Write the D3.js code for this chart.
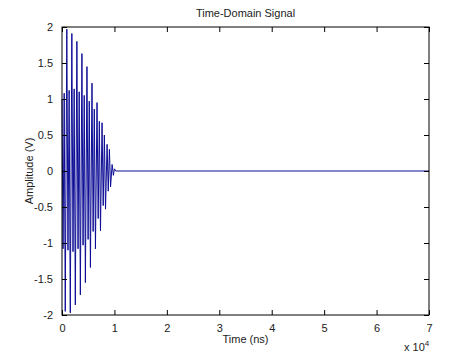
<!DOCTYPE html>
<html>
<head>
<meta charset="utf-8">
<script src="https://cdn.jsdelivr.net/npm/d3@7"></script>
<style>
  body { margin: 0; background: #fff; }
  svg text { font-family: "Liberation Sans", Arial, sans-serif; fill: #222; }
</style>
</head>
<body>
<div id="chart"></div>
<script>
// values (time in ns, amplitude in V)
const startPoints = [[0, 1.0], [200, -1.08], [420, 1.08]]

const negT = [620, 1580, 2540, 3500, 4460, 5420, 6380, 7340, 8300, 9260]
const negV = [-1.95, -1.97, -1.86, -1.72, -1.55, -1.34, -1.08, -0.83, -0.53, -0.22]
const posT = [920, 1880, 2840, 3800, 4760, 5720, 6680, 7640, 8600, 9560]
const posV = [1.97, 1.91, 1.80, 1.63, 1.45, 1.22, 0.95, 0.67, 0.37, 0.09]
// light zig-zag between spikes
const zigLowT = [1140, 2100, 3060, 4020, 4980, 5940, 6900, 7860, 8820]
const zigLowV = [-1.10, -1.12, -1.08, -1.03, -0.95, -0.84, -0.66, -0.48, -0.28]
const zigHighT = [1360, 2320, 3280, 4240, 5200, 6160, 7120, 8080, 9040]
const zigHighV = [1.12, 1.14, 1.10, 1.05, 0.97, 0.86, 0.69, 0.50, 0.30]
const tailPoints = [[9800, -0.06], [10000, 0.03], [10250, 0], [70000, 0]]

const xTicks = [0, 1, 2, 3, 4, 5, 6, 7]
const yTicks = [-2, -1.5, -1, -0.5, 0, 0.5, 1, 1.5, 2]

// assemble the polyline
let signal = startPoints.slice()
for (let k = 0; k < negT.length; k++) {
    signal.push([negT[k], negV[k]])
    signal.push([posT[k], posV[k]])
    if (k < zigLowT.length) {
        signal.push([zigLowT[k], zigLowV[k]])
        signal.push([zigHighT[k], zigHighV[k]])
    }
}
signal = signal.concat(tailPoints)

const W = 474, H = 355
const padL = 62, padR = 429, padT = 27, padB = 315

const svg = d3.select("#chart").append("svg")
    .attr("width", W)
    .attr("height", H)

const x = d3.scaleLinear().domain([0, 70000]).range([padL, padR])
const y = d3.scaleLinear().domain([-2, 2]).range([padB, padT])

// plotted signal
const line = d3.line()
    .x(d => x(d[0]))
    .y(d => y(d[1]))

svg.append("path")
    .datum(signal)
    .attr("fill", "none")
    .attr("stroke", "#0c0c96")
    .attr("stroke-width", 1)
    .attr("d", line)

// axes, MATLAB style: ticks pointing inward on all four sides
const tickLen = 5
const xs = d3.scaleLinear().domain([0, 7]).range([padL, padR])

const xAxisBottom = d3.axisBottom(xs).tickValues(xTicks).tickSize(-tickLen).tickPadding(9).tickFormat(d3.format("d"))
const xAxisTop = d3.axisTop(xs).tickValues(xTicks).tickSize(-tickLen).tickFormat("")
const yAxisLeft = d3.axisLeft(y).tickValues(yTicks).tickSize(-tickLen).tickPadding(9).tickFormat(d => d)
const yAxisRight = d3.axisRight(y).tickValues(yTicks).tickSize(-tickLen).tickFormat("")

function style(g) {
    g.select(".domain").remove()
    g.selectAll("line").attr("stroke", "#000")
    g.selectAll("text").attr("font-size", 11).attr("fill", "#222")
        .attr("font-family", "Liberation Sans, Arial, sans-serif")
}

svg.append("g").attr("transform", `translate(0,${padB})`).call(xAxisBottom).call(style)
svg.append("g").attr("transform", `translate(0,${padT})`).call(xAxisTop).call(style)
svg.append("g").attr("transform", `translate(${padL},0)`).call(yAxisLeft).call(style)
svg.append("g").attr("transform", `translate(${padR},0)`).call(yAxisRight).call(style)

svg.append("rect")
    .attr("x", padL)
    .attr("y", padT)
    .attr("width", padR - padL)
    .attr("height", padB - padT)
    .attr("fill", "none")
    .attr("stroke", "#000")
    .attr("stroke-width", 1)

// labels
svg.append("text")
    .attr("x", (padL + padR) / 2)
    .attr("y", 17)
    .attr("text-anchor", "middle")
    .attr("font-size", 11)
    .text("Time-Domain Signal")

svg.append("text")
    .attr("x", (padL + padR) / 2)
    .attr("y", 343)
    .attr("text-anchor", "middle")
    .attr("font-size", 11)
    .text("Time (ns)")

svg.append("text")
    .attr("transform", `translate(33,${(padT + padB) / 2}) rotate(-90)`)
    .attr("text-anchor", "middle")
    .attr("font-size", 11)
    .text("Amplitude (V)")

const exp = svg.append("text")
    .attr("x", 404)
    .attr("y", 351)
    .attr("font-size", 11)
exp.append("tspan").text("x 10")
exp.append("tspan").attr("dy", -5).attr("font-size", 8).text("4")
</script>
</body>
</html>
